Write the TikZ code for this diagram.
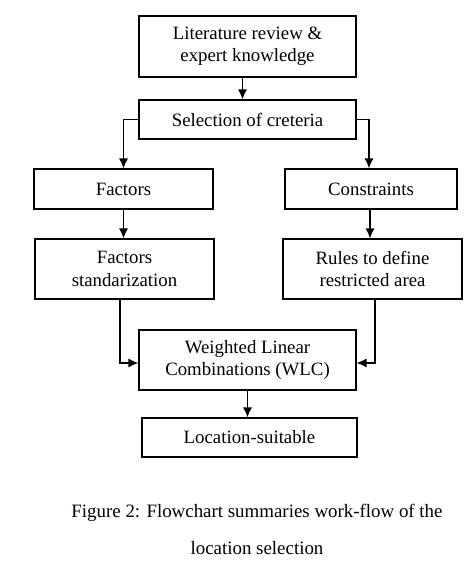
\documentclass[tikz,border=0pt]{standalone}
\usepackage{fontspec}
\setmainfont{Liberation Serif}
\usetikzlibrary{arrows.meta}
\begin{document}
\begin{tikzpicture}[x=1pt,y=-1pt,
  box/.style={draw, line width=1.2pt, inner sep=0pt, font=\fontsize{18.8}{22.5}\selectfont, align=center},
  arr/.style={-{Latex[length=10pt,width=9pt]}, line width=1.2pt},
  captext/.style={font=\fontsize{18.9}{22}\selectfont, inner sep=0pt}]
\useasboundingbox (0,0) rectangle (474,565);
\node[box, minimum width=217pt, minimum height=61pt] (lit) at (247.5,46.5) {Literature review \&\\expert knowledge};
\node[box, minimum width=217pt, minimum height=39pt] (sel) at (247.5,119.5) {Selection of creteria};
\node[box, minimum width=179pt, minimum height=40pt] (fac) at (123.5,189) {Factors};
\node[box, minimum width=172pt, minimum height=40pt] (con) at (371,189) {Constraints};
\node[box, minimum width=179pt, minimum height=60pt] (fst) at (124.5,269) {Factors\\standarization};
\node[box, minimum width=179pt, minimum height=60pt] (rul) at (372.5,269) {Rules to define\\restricted area};
\node[box, minimum width=217pt, minimum height=60pt] (wlc) at (247.5,360) {Weighted Linear\\Combinations (WLC)};
\node[box, minimum width=215pt, minimum height=39pt] (loc) at (249.5,437.5) {Location-suitable};
\coordinate (ls) at ([xshift=-5pt]lit.south);
\draw[arr] (ls) -- (ls |- sel.north);
\draw[arr] (sel.west) -| (fac.north);
\draw[arr] (sel.east) -| ([xshift=-2pt]con.north);
\draw[arr] (fac.south) -- (fac.south |- fst.north);
\coordinate (cs) at ([xshift=-1pt]con.south);
\draw[arr] (cs) -- (cs |- rul.north);
\draw[arr] ([xshift=-4.5pt]fst.south) |- ([yshift=-3pt]wlc.west);
\draw[arr] ([xshift=2.5pt]rul.south) |- ([yshift=-3pt]wlc.east);
\coordinate (ws) at (wlc.south);
\draw[arr] (ws) -- (ws |- loc.north);
\node[captext] (c1) at (257,513) {Figure 2: Flowchart summaries work-flow of the};
\node[captext] (c2) at (257,548) {location selection};
\end{tikzpicture}
\end{document}
